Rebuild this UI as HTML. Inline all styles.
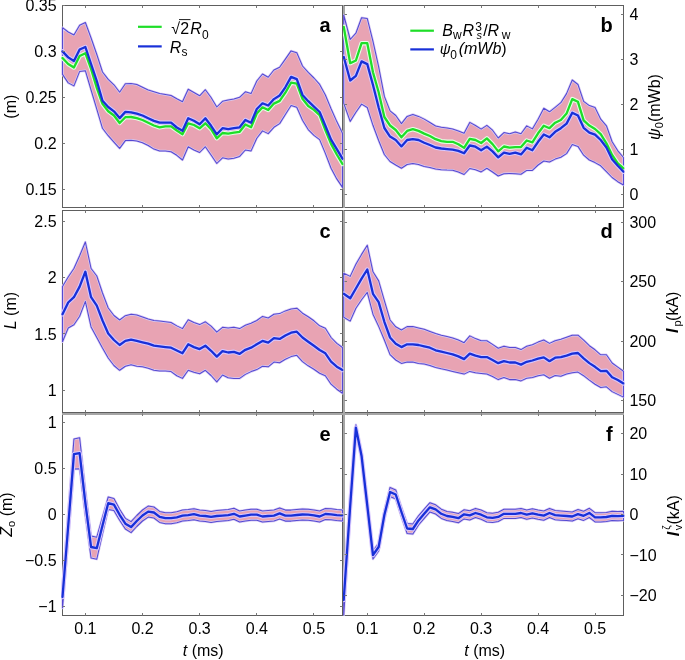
<!DOCTYPE html>
<html><head><meta charset="utf-8"><style>
html,body{margin:0;padding:0;background:#fff;}
svg{display:block;}
text{font-family:'Liberation Sans', Arial, Helvetica, sans-serif;fill:#000;}
.tl{font-size:16px;}
.pl{font-size:20px;font-weight:bold;}
.lab{font-size:16px;}
.lg{font-size:16px;}
</style></head><body>
<svg width="685" height="660" viewBox="0 0 685 660">
<defs>
<clipPath id="ca"><rect x="61.0" y="5.5" width="282.5" height="202.0"/></clipPath>
<clipPath id="cb"><rect x="343.0" y="5.5" width="281.5" height="202.0"/></clipPath>
<clipPath id="cc"><rect x="61.0" y="210.5" width="282.5" height="202.0"/></clipPath>
<clipPath id="cd"><rect x="343.0" y="210.5" width="281.5" height="202.0"/></clipPath>
<clipPath id="ce"><rect x="61.0" y="413.5" width="282.5" height="202.0"/></clipPath>
<clipPath id="cf"><rect x="343.0" y="413.5" width="281.5" height="202.0"/></clipPath>
</defs>
<path d="M342.5 5.0V208.0M62.0 207.5H343.0" stroke="#5e5e5e" stroke-width="1" fill="none"/>
<path d="M62.5 5.0V208.0" stroke="#5e5e5e" stroke-width="1" fill="none"/>
<path d="M62.0 5.5H343.0" stroke="#5e5e5e" stroke-width="1" fill="none"/>
<path d="M623.5 5.0V208.0M344.0 207.5H624.0" stroke="#5e5e5e" stroke-width="1" fill="none"/>
<path d="M344 5.0V208.0" stroke="#a6a6a6" stroke-width="2" fill="none"/>
<path d="M344.0 5.5H624.0" stroke="#5e5e5e" stroke-width="1" fill="none"/>
<path d="M342.5 210.0V413.0M62.0 412.5H343.0" stroke="#5e5e5e" stroke-width="1" fill="none"/>
<path d="M62.5 210.0V413.0" stroke="#5e5e5e" stroke-width="1" fill="none"/>
<path d="M62.0 210.5H343.0" stroke="#5e5e5e" stroke-width="1" fill="none"/>
<path d="M623.5 210.0V413.0M344.0 412.5H624.0" stroke="#5e5e5e" stroke-width="1" fill="none"/>
<path d="M344 210.0V413.0" stroke="#a6a6a6" stroke-width="2" fill="none"/>
<path d="M344.0 210.5H624.0" stroke="#5e5e5e" stroke-width="1" fill="none"/>
<path d="M342.5 413.0V616.0M62.0 615.5H343.0" stroke="#5e5e5e" stroke-width="1" fill="none"/>
<path d="M62.5 413.0V616.0" stroke="#5e5e5e" stroke-width="1" fill="none"/>
<path d="M62.0 414H343.0" stroke="#a6a6a6" stroke-width="2" fill="none"/>
<path d="M623.5 413.0V616.0M344.0 615.5H624.0" stroke="#5e5e5e" stroke-width="1" fill="none"/>
<path d="M344 413.0V616.0" stroke="#a6a6a6" stroke-width="2" fill="none"/>
<path d="M344.0 414H624.0" stroke="#a6a6a6" stroke-width="2" fill="none"/>
<g clip-path="url(#ca)" stroke-linejoin="round" stroke-linecap="round" fill="none">
<polygon points="62.5,27.7 68.21,32 73.93,35 79.64,25.3 85.36,22.5 91.07,38 96.79,54.5 102.5,72 108.21,79.4 113.93,84.8 119.64,92.2 125.36,83.7 131.07,83.6 136.79,84.5 142.5,87.3 148.21,90 153.93,91.8 159.64,93.6 165.36,94.5 171.07,95.5 176.79,98.7 182.5,101.7 188.21,89.2 193.93,92.5 199.64,95.8 205.36,89.7 211.07,97.5 216.79,107 222.5,101.3 228.21,100 233.93,99.1 239.64,97.3 245.36,91.8 251.07,93.6 256.79,81 262.5,74 268.21,77.3 273.93,70 279.64,67.3 285.36,59.1 291.07,50.9 296.79,52.7 302.5,66 308.21,72.4 313.93,78 319.64,84.4 325.36,95 331.07,108.8 336.79,121.6 342.5,133.2 342.5,187.4 336.79,178.9 331.07,168.3 325.36,153.4 319.64,139.6 313.93,135.4 308.21,129.6 302.5,120.3 296.79,107.3 291.07,105.5 285.36,114.5 279.64,123.6 273.93,127.3 268.21,133.6 262.5,130.9 256.79,138.2 251.07,150.9 245.36,150 239.64,156.4 233.93,158.2 228.21,159.1 222.5,157.8 216.79,163.5 211.07,155 205.36,146.7 199.64,152.5 193.93,150 188.21,146.7 182.5,160 176.79,155.3 171.07,151.8 165.36,150.9 159.64,150.9 153.93,149.1 148.21,145.5 142.5,142.7 136.79,140.9 131.07,140.3 125.36,140.6 119.64,148.4 113.93,142.1 108.21,135.7 102.5,128.3 96.79,109.2 91.07,90 85.36,70.7 79.64,71.4 73.93,85.9 68.21,82.9 62.5,74.4" fill="#e8a3b3" stroke="none"/>
<polygon points="62.5,27.7 68.21,32 73.93,35 79.64,25.3 85.36,22.5 91.07,38 96.79,54.5 102.5,72 108.21,79.4 113.93,84.8 119.64,92.2 125.36,83.7 131.07,83.6 136.79,84.5 142.5,87.3 148.21,90 153.93,91.8 159.64,93.6 165.36,94.5 171.07,95.5 176.79,98.7 182.5,101.7 188.21,89.2 193.93,92.5 199.64,95.8 205.36,89.7 211.07,97.5 216.79,107 222.5,101.3 228.21,100 233.93,99.1 239.64,97.3 245.36,91.8 251.07,93.6 256.79,81 262.5,74 268.21,77.3 273.93,70 279.64,67.3 285.36,59.1 291.07,50.9 296.79,52.7 302.5,66 308.21,72.4 313.93,78 319.64,84.4 325.36,95 331.07,108.8 336.79,121.6 342.5,133.2 342.5,187.4 336.79,178.9 331.07,168.3 325.36,153.4 319.64,139.6 313.93,135.4 308.21,129.6 302.5,120.3 296.79,107.3 291.07,105.5 285.36,114.5 279.64,123.6 273.93,127.3 268.21,133.6 262.5,130.9 256.79,138.2 251.07,150.9 245.36,150 239.64,156.4 233.93,158.2 228.21,159.1 222.5,157.8 216.79,163.5 211.07,155 205.36,146.7 199.64,152.5 193.93,150 188.21,146.7 182.5,160 176.79,155.3 171.07,151.8 165.36,150.9 159.64,150.9 153.93,149.1 148.21,145.5 142.5,142.7 136.79,140.9 131.07,140.3 125.36,140.6 119.64,148.4 113.93,142.1 108.21,135.7 102.5,128.3 96.79,109.2 91.07,90 85.36,70.7 79.64,71.4 73.93,85.9 68.21,82.9 62.5,74.4" stroke="#d8ccf4" stroke-width="2.4"/>
<polygon points="62.5,27.7 68.21,32 73.93,35 79.64,25.3 85.36,22.5 91.07,38 96.79,54.5 102.5,72 108.21,79.4 113.93,84.8 119.64,92.2 125.36,83.7 131.07,83.6 136.79,84.5 142.5,87.3 148.21,90 153.93,91.8 159.64,93.6 165.36,94.5 171.07,95.5 176.79,98.7 182.5,101.7 188.21,89.2 193.93,92.5 199.64,95.8 205.36,89.7 211.07,97.5 216.79,107 222.5,101.3 228.21,100 233.93,99.1 239.64,97.3 245.36,91.8 251.07,93.6 256.79,81 262.5,74 268.21,77.3 273.93,70 279.64,67.3 285.36,59.1 291.07,50.9 296.79,52.7 302.5,66 308.21,72.4 313.93,78 319.64,84.4 325.36,95 331.07,108.8 336.79,121.6 342.5,133.2 342.5,187.4 336.79,178.9 331.07,168.3 325.36,153.4 319.64,139.6 313.93,135.4 308.21,129.6 302.5,120.3 296.79,107.3 291.07,105.5 285.36,114.5 279.64,123.6 273.93,127.3 268.21,133.6 262.5,130.9 256.79,138.2 251.07,150.9 245.36,150 239.64,156.4 233.93,158.2 228.21,159.1 222.5,157.8 216.79,163.5 211.07,155 205.36,146.7 199.64,152.5 193.93,150 188.21,146.7 182.5,160 176.79,155.3 171.07,151.8 165.36,150.9 159.64,150.9 153.93,149.1 148.21,145.5 142.5,142.7 136.79,140.9 131.07,140.3 125.36,140.6 119.64,148.4 113.93,142.1 108.21,135.7 102.5,128.3 96.79,109.2 91.07,90 85.36,70.7 79.64,71.4 73.93,85.9 68.21,82.9 62.5,74.4" stroke="#5549d2" stroke-width="1.05"/>
<polyline points="62.5,58 68.21,64 73.93,67.5 79.64,56 85.36,53.2 91.07,68.8 96.79,87.9 102.5,103.9 108.21,111.3 113.93,115.5 119.64,123 125.36,117.2 131.07,117 136.79,118.2 142.5,120 148.21,122.7 153.93,125.5 159.64,127.3 165.36,126.4 171.07,126.4 176.79,130.5 182.5,134.2 188.21,123.3 193.93,125 199.64,128.3 205.36,123.3 211.07,129.2 216.79,138.3 222.5,133 228.21,133.6 233.93,132.7 239.64,131.8 245.36,124.5 251.07,127.3 256.79,113.6 262.5,107.3 268.21,110 273.93,103.6 279.64,100.9 285.36,92.7 291.07,82.7 296.79,83.6 302.5,98.8 308.21,106 313.93,109.9 319.64,115.2 325.36,130 331.07,143.9 336.79,154.5 342.5,164" stroke="#e4ffe4" stroke-width="4.4"/>
<polyline points="62.5,51.4 68.21,57.4 73.93,61 79.64,49.5 85.36,47 91.07,64 96.79,81 102.5,100.7 108.21,107 113.93,111.3 119.64,118.1 125.36,111.9 131.07,112.3 136.79,113.6 142.5,115.5 148.21,118.2 153.93,120.9 159.64,122.7 165.36,122.7 171.07,122.7 176.79,127.5 182.5,130.8 188.21,118.3 193.93,120.8 199.64,124.2 205.36,118.3 211.07,125.8 216.79,134.3 222.5,128.2 228.21,129.1 233.93,128.2 239.64,127.3 245.36,120 251.07,122.7 256.79,109 262.5,103.3 268.21,105.5 273.93,99.1 279.64,95.5 285.36,87.3 291.07,76.9 296.79,79.1 302.5,95 308.21,101.2 313.93,106.7 319.64,112 325.36,125.8 331.07,139.6 336.79,149.2 342.5,158.7" stroke="#d8c8ff" stroke-width="4.4"/>
<polyline points="62.5,58 68.21,64 73.93,67.5 79.64,56 85.36,53.2 91.07,68.8 96.79,87.9 102.5,103.9 108.21,111.3 113.93,115.5 119.64,123 125.36,117.2 131.07,117 136.79,118.2 142.5,120 148.21,122.7 153.93,125.5 159.64,127.3 165.36,126.4 171.07,126.4 176.79,130.5 182.5,134.2 188.21,123.3 193.93,125 199.64,128.3 205.36,123.3 211.07,129.2 216.79,138.3 222.5,133 228.21,133.6 233.93,132.7 239.64,131.8 245.36,124.5 251.07,127.3 256.79,113.6 262.5,107.3 268.21,110 273.93,103.6 279.64,100.9 285.36,92.7 291.07,82.7 296.79,83.6 302.5,98.8 308.21,106 313.93,109.9 319.64,115.2 325.36,130 331.07,143.9 336.79,154.5 342.5,164" stroke="#1ede28" stroke-width="2.3"/>
<polyline points="62.5,51.4 68.21,57.4 73.93,61 79.64,49.5 85.36,47 91.07,64 96.79,81 102.5,100.7 108.21,107 113.93,111.3 119.64,118.1 125.36,111.9 131.07,112.3 136.79,113.6 142.5,115.5 148.21,118.2 153.93,120.9 159.64,122.7 165.36,122.7 171.07,122.7 176.79,127.5 182.5,130.8 188.21,118.3 193.93,120.8 199.64,124.2 205.36,118.3 211.07,125.8 216.79,134.3 222.5,128.2 228.21,129.1 233.93,128.2 239.64,127.3 245.36,120 251.07,122.7 256.79,109 262.5,103.3 268.21,105.5 273.93,99.1 279.64,95.5 285.36,87.3 291.07,76.9 296.79,79.1 302.5,95 308.21,101.2 313.93,106.7 319.64,112 325.36,125.8 331.07,139.6 336.79,149.2 342.5,158.7" stroke="#1830d8" stroke-width="2.3"/>
</g>
<g clip-path="url(#cb)" stroke-linejoin="round" stroke-linecap="round" fill="none">
<polygon points="343.7,15 350.19,39.5 355.89,33.2 361.58,17.7 367.28,18.6 372.97,41.4 378.66,66.8 384.36,96.4 390.05,110.9 395.74,115.5 401.44,123.6 407.13,116.4 412.83,114.5 418.52,116.4 424.21,119.1 429.91,122.5 435.6,126 441.3,127.3 446.99,127.9 452.68,129.1 458.38,130.9 464.07,133.3 469.77,122.4 475.46,125.5 481.15,129.1 486.85,125.4 492.54,130.2 498.23,138 503.93,132.6 509.62,133.8 515.32,132 521.01,133.8 526.7,125.9 532.4,128.9 538.09,119.2 543.79,108.2 549.48,111.8 555.17,107.3 560.87,102.7 566.56,93.6 572.26,80 577.95,84.5 583.64,101.3 589.34,105.6 595.03,107.4 600.72,119.2 606.42,125.8 612.11,141.7 617.81,150.8 623.5,157.5 623.5,185 617.81,181.7 612.11,177.5 606.42,171.7 600.72,165.8 595.03,162.6 589.34,160 583.64,155.2 577.95,146.4 572.26,144.5 566.56,153.6 560.87,157.3 555.17,159.1 549.48,162 543.79,161 538.09,165 532.4,170.4 526.7,170.4 521.01,174.3 515.32,173.7 509.62,173.4 503.93,173.7 498.23,176 492.54,172 486.85,168.3 481.15,171.9 475.46,169.7 469.77,168.5 464.07,174.5 458.38,172.1 452.68,170.3 446.99,170.1 441.3,169.7 435.6,169.1 429.91,167.5 424.21,166.4 418.52,164.5 412.83,163.6 407.13,164.5 401.44,168.2 395.74,165 390.05,161.5 384.36,154.5 378.66,140.5 372.97,125.3 367.28,107.5 361.58,104.1 355.89,112.3 350.19,121.4 343.7,103.2" fill="#e8a3b3" stroke="none"/>
<polygon points="343.7,15 350.19,39.5 355.89,33.2 361.58,17.7 367.28,18.6 372.97,41.4 378.66,66.8 384.36,96.4 390.05,110.9 395.74,115.5 401.44,123.6 407.13,116.4 412.83,114.5 418.52,116.4 424.21,119.1 429.91,122.5 435.6,126 441.3,127.3 446.99,127.9 452.68,129.1 458.38,130.9 464.07,133.3 469.77,122.4 475.46,125.5 481.15,129.1 486.85,125.4 492.54,130.2 498.23,138 503.93,132.6 509.62,133.8 515.32,132 521.01,133.8 526.7,125.9 532.4,128.9 538.09,119.2 543.79,108.2 549.48,111.8 555.17,107.3 560.87,102.7 566.56,93.6 572.26,80 577.95,84.5 583.64,101.3 589.34,105.6 595.03,107.4 600.72,119.2 606.42,125.8 612.11,141.7 617.81,150.8 623.5,157.5 623.5,185 617.81,181.7 612.11,177.5 606.42,171.7 600.72,165.8 595.03,162.6 589.34,160 583.64,155.2 577.95,146.4 572.26,144.5 566.56,153.6 560.87,157.3 555.17,159.1 549.48,162 543.79,161 538.09,165 532.4,170.4 526.7,170.4 521.01,174.3 515.32,173.7 509.62,173.4 503.93,173.7 498.23,176 492.54,172 486.85,168.3 481.15,171.9 475.46,169.7 469.77,168.5 464.07,174.5 458.38,172.1 452.68,170.3 446.99,170.1 441.3,169.7 435.6,169.1 429.91,167.5 424.21,166.4 418.52,164.5 412.83,163.6 407.13,164.5 401.44,168.2 395.74,165 390.05,161.5 384.36,154.5 378.66,140.5 372.97,125.3 367.28,107.5 361.58,104.1 355.89,112.3 350.19,121.4 343.7,103.2" stroke="#d8ccf4" stroke-width="2.4"/>
<polygon points="343.7,15 350.19,39.5 355.89,33.2 361.58,17.7 367.28,18.6 372.97,41.4 378.66,66.8 384.36,96.4 390.05,110.9 395.74,115.5 401.44,123.6 407.13,116.4 412.83,114.5 418.52,116.4 424.21,119.1 429.91,122.5 435.6,126 441.3,127.3 446.99,127.9 452.68,129.1 458.38,130.9 464.07,133.3 469.77,122.4 475.46,125.5 481.15,129.1 486.85,125.4 492.54,130.2 498.23,138 503.93,132.6 509.62,133.8 515.32,132 521.01,133.8 526.7,125.9 532.4,128.9 538.09,119.2 543.79,108.2 549.48,111.8 555.17,107.3 560.87,102.7 566.56,93.6 572.26,80 577.95,84.5 583.64,101.3 589.34,105.6 595.03,107.4 600.72,119.2 606.42,125.8 612.11,141.7 617.81,150.8 623.5,157.5 623.5,185 617.81,181.7 612.11,177.5 606.42,171.7 600.72,165.8 595.03,162.6 589.34,160 583.64,155.2 577.95,146.4 572.26,144.5 566.56,153.6 560.87,157.3 555.17,159.1 549.48,162 543.79,161 538.09,165 532.4,170.4 526.7,170.4 521.01,174.3 515.32,173.7 509.62,173.4 503.93,173.7 498.23,176 492.54,172 486.85,168.3 481.15,171.9 475.46,169.7 469.77,168.5 464.07,174.5 458.38,172.1 452.68,170.3 446.99,170.1 441.3,169.7 435.6,169.1 429.91,167.5 424.21,166.4 418.52,164.5 412.83,163.6 407.13,164.5 401.44,168.2 395.74,165 390.05,161.5 384.36,154.5 378.66,140.5 372.97,125.3 367.28,107.5 361.58,104.1 355.89,112.3 350.19,121.4 343.7,103.2" stroke="#5549d2" stroke-width="1.05"/>
<polyline points="343.7,26.8 350.19,63.2 355.89,60.5 361.58,43.2 367.28,43.2 372.97,72.3 378.66,92.3 384.36,117 390.05,125.5 395.74,130 401.44,137.3 407.13,130.9 412.83,129.1 418.52,130.9 424.21,133.6 429.91,136 435.6,139.2 441.3,141.2 446.99,141.8 452.68,141.8 458.38,144.2 464.07,147.9 469.77,138.8 475.46,140 481.15,143 486.85,138.4 492.54,144.1 498.23,151.4 503.93,146.5 509.62,147.7 515.32,147.1 521.01,147.1 526.7,140.5 532.4,142.3 538.09,133.3 543.79,125.7 549.48,128.2 555.17,122.7 560.87,120 566.56,113.6 572.26,99.1 577.95,101.8 583.64,120.4 589.34,125.6 595.03,129 600.72,134.2 606.42,143.3 612.11,155 617.81,163.3 623.5,168.3" stroke="#e4ffe4" stroke-width="4.4"/>
<polyline points="343.7,56.8 350.19,80.5 355.89,75.9 361.58,61.4 367.28,64.1 372.97,85 378.66,107.5 384.36,128 390.05,136.6 395.74,140 401.44,146.4 407.13,140 412.83,139.1 418.52,140 424.21,142.7 429.91,145 435.6,147.5 441.3,148.5 446.99,149.1 452.68,149.7 458.38,150.9 464.07,153.3 469.77,145.5 475.46,146.7 481.15,150.3 486.85,146.6 492.54,151.4 498.23,157.4 503.93,152.6 509.62,153.8 515.32,152.6 521.01,154.4 526.7,147.7 532.4,150.2 538.09,141.8 543.79,134.5 549.48,137.3 555.17,131.8 560.87,128.2 566.56,123.6 572.26,112.7 577.95,115.5 583.64,127.8 589.34,132.6 595.03,134.7 600.72,140 606.42,147.5 612.11,159.2 617.81,165.8 623.5,171.7" stroke="#d8c8ff" stroke-width="4.4"/>
<polyline points="343.7,26.8 350.19,63.2 355.89,60.5 361.58,43.2 367.28,43.2 372.97,72.3 378.66,92.3 384.36,117 390.05,125.5 395.74,130 401.44,137.3 407.13,130.9 412.83,129.1 418.52,130.9 424.21,133.6 429.91,136 435.6,139.2 441.3,141.2 446.99,141.8 452.68,141.8 458.38,144.2 464.07,147.9 469.77,138.8 475.46,140 481.15,143 486.85,138.4 492.54,144.1 498.23,151.4 503.93,146.5 509.62,147.7 515.32,147.1 521.01,147.1 526.7,140.5 532.4,142.3 538.09,133.3 543.79,125.7 549.48,128.2 555.17,122.7 560.87,120 566.56,113.6 572.26,99.1 577.95,101.8 583.64,120.4 589.34,125.6 595.03,129 600.72,134.2 606.42,143.3 612.11,155 617.81,163.3 623.5,168.3" stroke="#1ede28" stroke-width="2.3"/>
<polyline points="343.7,56.8 350.19,80.5 355.89,75.9 361.58,61.4 367.28,64.1 372.97,85 378.66,107.5 384.36,128 390.05,136.6 395.74,140 401.44,146.4 407.13,140 412.83,139.1 418.52,140 424.21,142.7 429.91,145 435.6,147.5 441.3,148.5 446.99,149.1 452.68,149.7 458.38,150.9 464.07,153.3 469.77,145.5 475.46,146.7 481.15,150.3 486.85,146.6 492.54,151.4 498.23,157.4 503.93,152.6 509.62,153.8 515.32,152.6 521.01,154.4 526.7,147.7 532.4,150.2 538.09,141.8 543.79,134.5 549.48,137.3 555.17,131.8 560.87,128.2 566.56,123.6 572.26,112.7 577.95,115.5 583.64,127.8 589.34,132.6 595.03,134.7 600.72,140 606.42,147.5 612.11,159.2 617.81,165.8 623.5,171.7" stroke="#1830d8" stroke-width="2.3"/>
</g>
<g clip-path="url(#cc)" stroke-linejoin="round" stroke-linecap="round" fill="none">
<polygon points="62.5,286.6 68.21,277 73.93,268.5 79.64,255.8 85.36,242 91.07,268.5 96.79,276 102.5,293 108.21,308 113.93,315.5 119.64,320 125.36,315.7 131.07,314.3 136.79,315 142.5,317 148.21,319.1 153.93,320.5 159.64,321.1 165.36,321.8 171.07,322.5 176.79,325.9 182.5,328.6 188.21,319.8 193.93,322.5 199.64,324.6 205.36,321.8 211.07,326.2 216.79,332.1 222.5,327.3 228.21,328 233.93,327.3 239.64,328.6 245.36,325.2 251.07,323.2 256.79,320.5 262.5,316.4 268.21,318 273.93,314.3 279.64,313.6 285.36,310.9 291.07,308.9 296.79,308.2 302.5,313.2 308.21,316.7 313.93,320.8 319.64,325.8 325.36,328.3 331.07,337.5 336.79,343.3 342.5,347.5 342.5,393.3 336.79,389.2 331.07,384.2 325.36,375.8 319.64,373.3 313.93,369.2 308.21,365.8 302.5,361.6 296.79,355.3 291.07,356.6 285.36,359.3 279.64,362.8 273.93,362.1 268.21,366.8 262.5,366.2 256.79,369.6 251.07,371.6 245.36,374.4 239.64,378.4 233.93,378.4 228.21,377.8 222.5,375 216.79,381.9 211.07,375.5 205.36,370.3 199.64,373.7 193.93,372.3 188.21,370.3 182.5,378.4 176.79,375.7 171.07,371.6 165.36,370.9 159.64,370.9 153.93,370.3 148.21,368.2 142.5,366.8 136.79,366.2 131.07,364.8 125.36,366.2 119.64,370.3 113.93,365.5 108.21,358 102.5,348.1 96.79,337.5 91.07,326.9 85.36,301.4 79.64,316.3 73.93,324.8 68.21,328 62.5,341.8" fill="#e8a3b3" stroke="none"/>
<polygon points="62.5,286.6 68.21,277 73.93,268.5 79.64,255.8 85.36,242 91.07,268.5 96.79,276 102.5,293 108.21,308 113.93,315.5 119.64,320 125.36,315.7 131.07,314.3 136.79,315 142.5,317 148.21,319.1 153.93,320.5 159.64,321.1 165.36,321.8 171.07,322.5 176.79,325.9 182.5,328.6 188.21,319.8 193.93,322.5 199.64,324.6 205.36,321.8 211.07,326.2 216.79,332.1 222.5,327.3 228.21,328 233.93,327.3 239.64,328.6 245.36,325.2 251.07,323.2 256.79,320.5 262.5,316.4 268.21,318 273.93,314.3 279.64,313.6 285.36,310.9 291.07,308.9 296.79,308.2 302.5,313.2 308.21,316.7 313.93,320.8 319.64,325.8 325.36,328.3 331.07,337.5 336.79,343.3 342.5,347.5 342.5,393.3 336.79,389.2 331.07,384.2 325.36,375.8 319.64,373.3 313.93,369.2 308.21,365.8 302.5,361.6 296.79,355.3 291.07,356.6 285.36,359.3 279.64,362.8 273.93,362.1 268.21,366.8 262.5,366.2 256.79,369.6 251.07,371.6 245.36,374.4 239.64,378.4 233.93,378.4 228.21,377.8 222.5,375 216.79,381.9 211.07,375.5 205.36,370.3 199.64,373.7 193.93,372.3 188.21,370.3 182.5,378.4 176.79,375.7 171.07,371.6 165.36,370.9 159.64,370.9 153.93,370.3 148.21,368.2 142.5,366.8 136.79,366.2 131.07,364.8 125.36,366.2 119.64,370.3 113.93,365.5 108.21,358 102.5,348.1 96.79,337.5 91.07,326.9 85.36,301.4 79.64,316.3 73.93,324.8 68.21,328 62.5,341.8" stroke="#d8ccf4" stroke-width="2.4"/>
<polygon points="62.5,286.6 68.21,277 73.93,268.5 79.64,255.8 85.36,242 91.07,268.5 96.79,276 102.5,293 108.21,308 113.93,315.5 119.64,320 125.36,315.7 131.07,314.3 136.79,315 142.5,317 148.21,319.1 153.93,320.5 159.64,321.1 165.36,321.8 171.07,322.5 176.79,325.9 182.5,328.6 188.21,319.8 193.93,322.5 199.64,324.6 205.36,321.8 211.07,326.2 216.79,332.1 222.5,327.3 228.21,328 233.93,327.3 239.64,328.6 245.36,325.2 251.07,323.2 256.79,320.5 262.5,316.4 268.21,318 273.93,314.3 279.64,313.6 285.36,310.9 291.07,308.9 296.79,308.2 302.5,313.2 308.21,316.7 313.93,320.8 319.64,325.8 325.36,328.3 331.07,337.5 336.79,343.3 342.5,347.5 342.5,393.3 336.79,389.2 331.07,384.2 325.36,375.8 319.64,373.3 313.93,369.2 308.21,365.8 302.5,361.6 296.79,355.3 291.07,356.6 285.36,359.3 279.64,362.8 273.93,362.1 268.21,366.8 262.5,366.2 256.79,369.6 251.07,371.6 245.36,374.4 239.64,378.4 233.93,378.4 228.21,377.8 222.5,375 216.79,381.9 211.07,375.5 205.36,370.3 199.64,373.7 193.93,372.3 188.21,370.3 182.5,378.4 176.79,375.7 171.07,371.6 165.36,370.9 159.64,370.9 153.93,370.3 148.21,368.2 142.5,366.8 136.79,366.2 131.07,364.8 125.36,366.2 119.64,370.3 113.93,365.5 108.21,358 102.5,348.1 96.79,337.5 91.07,326.9 85.36,301.4 79.64,316.3 73.93,324.8 68.21,328 62.5,341.8" stroke="#5549d2" stroke-width="1.05"/>
<polyline points="62.5,314.2 68.21,302.5 73.93,297.2 79.64,286.6 85.36,271.7 91.07,297.2 96.79,305.7 102.5,320.5 108.21,333.5 113.93,340 119.64,345 125.36,340.9 131.07,339.6 136.79,340.9 142.5,342.3 148.21,343.7 153.93,345.7 159.64,346.4 165.36,347.1 171.07,347.7 176.79,350.5 182.5,353.2 188.21,344.3 193.93,347.1 199.64,349.1 205.36,345.7 211.07,350.8 216.79,356.6 222.5,351.2 228.21,352.5 233.93,351.8 239.64,353.9 245.36,349.8 251.07,347.7 256.79,344.3 262.5,340.9 268.21,342.6 273.93,338.2 279.64,338.9 285.36,335.5 291.07,332.7 296.79,331.7 302.5,337.5 308.21,341.7 313.93,345.8 319.64,350 325.36,353.3 331.07,361.7 336.79,366.7 342.5,370" stroke="#d8c8ff" stroke-width="4.4"/>
<polyline points="62.5,314.2 68.21,302.5 73.93,297.2 79.64,286.6 85.36,271.7 91.07,297.2 96.79,305.7 102.5,320.5 108.21,333.5 113.93,340 119.64,345 125.36,340.9 131.07,339.6 136.79,340.9 142.5,342.3 148.21,343.7 153.93,345.7 159.64,346.4 165.36,347.1 171.07,347.7 176.79,350.5 182.5,353.2 188.21,344.3 193.93,347.1 199.64,349.1 205.36,345.7 211.07,350.8 216.79,356.6 222.5,351.2 228.21,352.5 233.93,351.8 239.64,353.9 245.36,349.8 251.07,347.7 256.79,344.3 262.5,340.9 268.21,342.6 273.93,338.2 279.64,338.9 285.36,335.5 291.07,332.7 296.79,331.7 302.5,337.5 308.21,341.7 313.93,345.8 319.64,350 325.36,353.3 331.07,361.7 336.79,366.7 342.5,370" stroke="#1830d8" stroke-width="2.3"/>
</g>
<g clip-path="url(#cd)" stroke-linejoin="round" stroke-linecap="round" fill="none">
<polygon points="343.7,273.3 350.19,276.4 355.89,264.2 361.58,254.4 367.28,245.3 372.97,271.8 378.66,280.9 384.36,300.6 390.05,320 395.74,326.8 401.44,330 407.13,326.6 412.83,326.6 418.52,328 424.21,329.3 429.91,331.4 435.6,333.6 441.3,335.3 446.99,336.6 452.68,338 458.38,340 464.07,342.7 469.77,335.9 475.46,338.6 481.15,340.7 486.85,340.7 492.54,344.4 498.23,348.2 503.93,346.2 509.62,347.5 515.32,347.5 521.01,349.6 526.7,346.2 532.4,344.8 538.09,342.1 543.79,340 549.48,343.4 555.17,340.7 560.87,339.3 566.56,337.3 572.26,335.2 577.95,335.2 583.64,340.2 589.34,345.7 595.03,349.8 600.72,354.8 606.42,354.8 612.11,363 617.81,367.1 623.5,371.2 623.5,397.1 617.81,394.4 612.11,391.6 606.42,386.8 600.72,387.5 595.03,384.2 589.34,380.1 583.64,375.7 577.95,372.1 572.26,372.8 566.56,374.1 560.87,376.2 555.17,375.5 549.48,378.2 543.79,374.8 538.09,375.8 532.4,377.5 526.7,378.2 521.01,380.9 515.32,379.6 509.62,379.6 503.93,377.5 498.23,379.6 492.54,376.5 486.85,374.1 481.15,373.4 475.46,372.8 469.77,371.4 464.07,374.1 458.38,372.8 452.68,371.4 446.99,370 441.3,368.8 435.6,367.4 429.91,365.5 424.21,364.1 418.52,363.4 412.83,362.1 407.13,362.1 401.44,363.4 395.74,360 390.05,354.6 384.36,340 378.66,326.4 372.97,314.2 367.28,292.3 361.58,299.8 355.89,308.2 350.19,321.1 343.7,317.3" fill="#e8a3b3" stroke="none"/>
<polygon points="343.7,273.3 350.19,276.4 355.89,264.2 361.58,254.4 367.28,245.3 372.97,271.8 378.66,280.9 384.36,300.6 390.05,320 395.74,326.8 401.44,330 407.13,326.6 412.83,326.6 418.52,328 424.21,329.3 429.91,331.4 435.6,333.6 441.3,335.3 446.99,336.6 452.68,338 458.38,340 464.07,342.7 469.77,335.9 475.46,338.6 481.15,340.7 486.85,340.7 492.54,344.4 498.23,348.2 503.93,346.2 509.62,347.5 515.32,347.5 521.01,349.6 526.7,346.2 532.4,344.8 538.09,342.1 543.79,340 549.48,343.4 555.17,340.7 560.87,339.3 566.56,337.3 572.26,335.2 577.95,335.2 583.64,340.2 589.34,345.7 595.03,349.8 600.72,354.8 606.42,354.8 612.11,363 617.81,367.1 623.5,371.2 623.5,397.1 617.81,394.4 612.11,391.6 606.42,386.8 600.72,387.5 595.03,384.2 589.34,380.1 583.64,375.7 577.95,372.1 572.26,372.8 566.56,374.1 560.87,376.2 555.17,375.5 549.48,378.2 543.79,374.8 538.09,375.8 532.4,377.5 526.7,378.2 521.01,380.9 515.32,379.6 509.62,379.6 503.93,377.5 498.23,379.6 492.54,376.5 486.85,374.1 481.15,373.4 475.46,372.8 469.77,371.4 464.07,374.1 458.38,372.8 452.68,371.4 446.99,370 441.3,368.8 435.6,367.4 429.91,365.5 424.21,364.1 418.52,363.4 412.83,362.1 407.13,362.1 401.44,363.4 395.74,360 390.05,354.6 384.36,340 378.66,326.4 372.97,314.2 367.28,292.3 361.58,299.8 355.89,308.2 350.19,321.1 343.7,317.3" stroke="#d8ccf4" stroke-width="2.4"/>
<polygon points="343.7,273.3 350.19,276.4 355.89,264.2 361.58,254.4 367.28,245.3 372.97,271.8 378.66,280.9 384.36,300.6 390.05,320 395.74,326.8 401.44,330 407.13,326.6 412.83,326.6 418.52,328 424.21,329.3 429.91,331.4 435.6,333.6 441.3,335.3 446.99,336.6 452.68,338 458.38,340 464.07,342.7 469.77,335.9 475.46,338.6 481.15,340.7 486.85,340.7 492.54,344.4 498.23,348.2 503.93,346.2 509.62,347.5 515.32,347.5 521.01,349.6 526.7,346.2 532.4,344.8 538.09,342.1 543.79,340 549.48,343.4 555.17,340.7 560.87,339.3 566.56,337.3 572.26,335.2 577.95,335.2 583.64,340.2 589.34,345.7 595.03,349.8 600.72,354.8 606.42,354.8 612.11,363 617.81,367.1 623.5,371.2 623.5,397.1 617.81,394.4 612.11,391.6 606.42,386.8 600.72,387.5 595.03,384.2 589.34,380.1 583.64,375.7 577.95,372.1 572.26,372.8 566.56,374.1 560.87,376.2 555.17,375.5 549.48,378.2 543.79,374.8 538.09,375.8 532.4,377.5 526.7,378.2 521.01,380.9 515.32,379.6 509.62,379.6 503.93,377.5 498.23,379.6 492.54,376.5 486.85,374.1 481.15,373.4 475.46,372.8 469.77,371.4 464.07,374.1 458.38,372.8 452.68,371.4 446.99,370 441.3,368.8 435.6,367.4 429.91,365.5 424.21,364.1 418.52,363.4 412.83,362.1 407.13,362.1 401.44,363.4 395.74,360 390.05,354.6 384.36,340 378.66,326.4 372.97,314.2 367.28,292.3 361.58,299.8 355.89,308.2 350.19,321.1 343.7,317.3" stroke="#5549d2" stroke-width="1.05"/>
<polyline points="343.7,293.8 350.19,298.3 355.89,288.5 361.58,278.6 367.28,269.5 372.97,293.8 378.66,302.1 384.36,321.8 390.05,337.5 395.74,343.7 401.44,347.1 407.13,344.3 412.83,344.3 418.52,345 424.21,346.4 429.91,347.7 435.6,350.3 441.3,351.7 446.99,353 452.68,354.3 458.38,356.4 464.07,359.1 469.77,353.7 475.46,355.7 481.15,357.1 486.85,357.1 492.54,360.1 498.23,363.2 503.93,361.2 509.62,362.5 515.32,362.5 521.01,364.6 526.7,361.8 532.4,360.5 538.09,358.7 543.79,357.4 549.48,361.2 555.17,357.7 560.87,357.1 566.56,355.7 572.26,353.7 577.95,353 583.64,358.3 589.34,363.1 595.03,366.8 600.72,371.2 606.42,370.8 612.11,377.3 617.81,380 623.5,383.4" stroke="#d8c8ff" stroke-width="4.4"/>
<polyline points="343.7,293.8 350.19,298.3 355.89,288.5 361.58,278.6 367.28,269.5 372.97,293.8 378.66,302.1 384.36,321.8 390.05,337.5 395.74,343.7 401.44,347.1 407.13,344.3 412.83,344.3 418.52,345 424.21,346.4 429.91,347.7 435.6,350.3 441.3,351.7 446.99,353 452.68,354.3 458.38,356.4 464.07,359.1 469.77,353.7 475.46,355.7 481.15,357.1 486.85,357.1 492.54,360.1 498.23,363.2 503.93,361.2 509.62,362.5 515.32,362.5 521.01,364.6 526.7,361.8 532.4,360.5 538.09,358.7 543.79,357.4 549.48,361.2 555.17,357.7 560.87,357.1 566.56,355.7 572.26,353.7 577.95,353 583.64,358.3 589.34,363.1 595.03,366.8 600.72,371.2 606.42,370.8 612.11,377.3 617.81,380 623.5,383.4" stroke="#1830d8" stroke-width="2.3"/>
</g>
<g clip-path="url(#ce)" stroke-linejoin="round" stroke-linecap="round" fill="none">
<polygon points="62.5,586 68.21,512 73.93,439.1 79.64,437.7 85.36,490 91.07,536 96.79,537.2 102.5,517 108.21,497 113.93,498.6 119.64,509.3 125.36,518.4 131.07,521.6 136.79,515.5 142.5,510 148.21,506.1 153.93,507 159.64,511.4 165.36,512.7 171.07,512.7 176.79,511.8 182.5,510.1 188.21,509.6 193.93,508.7 199.64,510.1 205.36,510.5 211.07,511.4 216.79,510.5 222.5,510.1 228.21,509.6 233.93,508.3 239.64,511 245.36,510.1 251.07,509.2 256.79,509.2 262.5,511 268.21,510.5 273.93,510.1 279.64,507.9 285.36,510.1 291.07,510.1 296.79,509.5 302.5,509 308.21,509.2 313.93,509.9 319.64,511 325.36,508.5 331.07,508.8 336.79,509.6 342.5,509.9 342.5,520.9 336.79,520.6 331.07,519.8 325.36,519.5 319.64,522 313.93,520.9 308.21,520.2 302.5,520 296.79,520.5 291.07,521.1 285.36,521.1 279.64,518.9 273.93,521.1 268.21,521.5 262.5,522 256.79,520.2 251.07,520.2 245.36,521.1 239.64,522 233.93,519.3 228.21,520.6 222.5,521.1 216.79,521.5 211.07,522.4 205.36,521.5 199.64,521.1 193.93,519.7 188.21,520.6 182.5,521.1 176.79,522.8 171.07,523.7 165.36,523.7 159.64,522.4 153.93,518 148.21,517.1 142.5,521 136.79,526.5 131.07,532.6 125.36,529 119.64,520.3 113.93,510.6 108.21,509.4 102.5,534 96.79,559.2 91.07,558 85.36,516 79.64,468.7 73.93,469.1 68.21,540 62.5,608" fill="#e8a3b3" stroke="none"/>
<polygon points="62.5,586 68.21,512 73.93,439.1 79.64,437.7 85.36,490 91.07,536 96.79,537.2 102.5,517 108.21,497 113.93,498.6 119.64,509.3 125.36,518.4 131.07,521.6 136.79,515.5 142.5,510 148.21,506.1 153.93,507 159.64,511.4 165.36,512.7 171.07,512.7 176.79,511.8 182.5,510.1 188.21,509.6 193.93,508.7 199.64,510.1 205.36,510.5 211.07,511.4 216.79,510.5 222.5,510.1 228.21,509.6 233.93,508.3 239.64,511 245.36,510.1 251.07,509.2 256.79,509.2 262.5,511 268.21,510.5 273.93,510.1 279.64,507.9 285.36,510.1 291.07,510.1 296.79,509.5 302.5,509 308.21,509.2 313.93,509.9 319.64,511 325.36,508.5 331.07,508.8 336.79,509.6 342.5,509.9 342.5,520.9 336.79,520.6 331.07,519.8 325.36,519.5 319.64,522 313.93,520.9 308.21,520.2 302.5,520 296.79,520.5 291.07,521.1 285.36,521.1 279.64,518.9 273.93,521.1 268.21,521.5 262.5,522 256.79,520.2 251.07,520.2 245.36,521.1 239.64,522 233.93,519.3 228.21,520.6 222.5,521.1 216.79,521.5 211.07,522.4 205.36,521.5 199.64,521.1 193.93,519.7 188.21,520.6 182.5,521.1 176.79,522.8 171.07,523.7 165.36,523.7 159.64,522.4 153.93,518 148.21,517.1 142.5,521 136.79,526.5 131.07,532.6 125.36,529 119.64,520.3 113.93,510.6 108.21,509.4 102.5,534 96.79,559.2 91.07,558 85.36,516 79.64,468.7 73.93,469.1 68.21,540 62.5,608" stroke="#d8ccf4" stroke-width="2.4"/>
<polygon points="62.5,586 68.21,512 73.93,439.1 79.64,437.7 85.36,490 91.07,536 96.79,537.2 102.5,517 108.21,497 113.93,498.6 119.64,509.3 125.36,518.4 131.07,521.6 136.79,515.5 142.5,510 148.21,506.1 153.93,507 159.64,511.4 165.36,512.7 171.07,512.7 176.79,511.8 182.5,510.1 188.21,509.6 193.93,508.7 199.64,510.1 205.36,510.5 211.07,511.4 216.79,510.5 222.5,510.1 228.21,509.6 233.93,508.3 239.64,511 245.36,510.1 251.07,509.2 256.79,509.2 262.5,511 268.21,510.5 273.93,510.1 279.64,507.9 285.36,510.1 291.07,510.1 296.79,509.5 302.5,509 308.21,509.2 313.93,509.9 319.64,511 325.36,508.5 331.07,508.8 336.79,509.6 342.5,509.9 342.5,520.9 336.79,520.6 331.07,519.8 325.36,519.5 319.64,522 313.93,520.9 308.21,520.2 302.5,520 296.79,520.5 291.07,521.1 285.36,521.1 279.64,518.9 273.93,521.1 268.21,521.5 262.5,522 256.79,520.2 251.07,520.2 245.36,521.1 239.64,522 233.93,519.3 228.21,520.6 222.5,521.1 216.79,521.5 211.07,522.4 205.36,521.5 199.64,521.1 193.93,519.7 188.21,520.6 182.5,521.1 176.79,522.8 171.07,523.7 165.36,523.7 159.64,522.4 153.93,518 148.21,517.1 142.5,521 136.79,526.5 131.07,532.6 125.36,529 119.64,520.3 113.93,510.6 108.21,509.4 102.5,534 96.79,559.2 91.07,558 85.36,516 79.64,468.7 73.93,469.1 68.21,540 62.5,608" stroke="#5549d2" stroke-width="1.05"/>
<polyline points="62.5,597 68.21,526 73.93,454.1 79.64,453.2 85.36,503 91.07,547 96.79,548.2 102.5,525.5 108.21,503.2 113.93,504.6 119.64,514.8 125.36,523.7 131.07,527.1 136.79,521 142.5,515.5 148.21,511.6 153.93,512.5 159.64,516.9 165.36,518.2 171.07,518.2 176.79,517.3 182.5,515.6 188.21,515.1 193.93,514.2 199.64,515.6 205.36,516 211.07,516.9 216.79,516 222.5,515.6 228.21,515.1 233.93,513.8 239.64,516.5 245.36,515.6 251.07,514.7 256.79,514.7 262.5,516.5 268.21,516 273.93,515.6 279.64,513.4 285.36,515.6 291.07,515.6 296.79,515 302.5,514.5 308.21,514.7 313.93,515.4 319.64,516.5 325.36,514 331.07,514.3 336.79,515.1 342.5,515.4" stroke="#d8c8ff" stroke-width="4.4"/>
<polyline points="62.5,597 68.21,526 73.93,454.1 79.64,453.2 85.36,503 91.07,547 96.79,548.2 102.5,525.5 108.21,503.2 113.93,504.6 119.64,514.8 125.36,523.7 131.07,527.1 136.79,521 142.5,515.5 148.21,511.6 153.93,512.5 159.64,516.9 165.36,518.2 171.07,518.2 176.79,517.3 182.5,515.6 188.21,515.1 193.93,514.2 199.64,515.6 205.36,516 211.07,516.9 216.79,516 222.5,515.6 228.21,515.1 233.93,513.8 239.64,516.5 245.36,515.6 251.07,514.7 256.79,514.7 262.5,516.5 268.21,516 273.93,515.6 279.64,513.4 285.36,515.6 291.07,515.6 296.79,515 302.5,514.5 308.21,514.7 313.93,515.4 319.64,516.5 325.36,514 331.07,514.3 336.79,515.1 342.5,515.4" stroke="#1830d8" stroke-width="2.3"/>
</g>
<g clip-path="url(#cf)" stroke-linejoin="round" stroke-linecap="round" fill="none">
<polygon points="343.7,584 350.19,497 355.89,424.7 361.58,453 367.28,502 372.97,551 378.66,543 384.36,510.6 390.05,487.4 395.74,489.9 401.44,507.2 407.13,523.5 412.83,524 418.52,515.8 424.21,509.2 429.91,502.7 435.6,504.8 441.3,509.2 446.99,511.4 452.68,512.3 458.38,513.6 464.07,509.7 469.77,510.8 475.46,508.4 481.15,510.1 486.85,512.7 492.54,513.2 498.23,512.3 503.93,509.2 509.62,509.2 515.32,509.2 521.01,508.4 526.7,510.1 532.4,508.8 538.09,510.1 543.79,511 549.48,508.4 555.17,510.5 560.87,511 566.56,511.4 572.26,511.9 577.95,509.5 583.64,511.2 589.34,508.3 595.03,512.7 600.72,512.7 606.42,512.4 612.11,511.2 617.81,511.6 623.5,511.2 623.5,520.4 617.81,520.8 612.11,520.4 606.42,521.6 600.72,521.9 595.03,521.9 589.34,517.5 583.64,520.4 577.95,518.7 572.26,521.1 566.56,520.6 560.87,520.2 555.17,519.7 549.48,517.6 543.79,520.2 538.09,519.3 532.4,518 526.7,519.3 521.01,517.6 515.32,518.4 509.62,518.4 503.93,518.4 498.23,521.5 492.54,522.4 486.85,521.9 481.15,519.3 475.46,517.6 469.77,520 464.07,518.9 458.38,522.8 452.68,521.5 446.99,520.6 441.3,518.4 435.6,514 429.91,511.9 424.21,518.4 418.52,525 412.83,534 407.13,533.5 401.44,516.8 395.74,499.1 390.05,496.6 384.36,519.4 378.66,551 372.97,559 367.28,509 361.58,459 355.89,430.7 350.19,515 343.7,616" fill="#e8a3b3" stroke="none"/>
<polygon points="343.7,584 350.19,497 355.89,424.7 361.58,453 367.28,502 372.97,551 378.66,543 384.36,510.6 390.05,487.4 395.74,489.9 401.44,507.2 407.13,523.5 412.83,524 418.52,515.8 424.21,509.2 429.91,502.7 435.6,504.8 441.3,509.2 446.99,511.4 452.68,512.3 458.38,513.6 464.07,509.7 469.77,510.8 475.46,508.4 481.15,510.1 486.85,512.7 492.54,513.2 498.23,512.3 503.93,509.2 509.62,509.2 515.32,509.2 521.01,508.4 526.7,510.1 532.4,508.8 538.09,510.1 543.79,511 549.48,508.4 555.17,510.5 560.87,511 566.56,511.4 572.26,511.9 577.95,509.5 583.64,511.2 589.34,508.3 595.03,512.7 600.72,512.7 606.42,512.4 612.11,511.2 617.81,511.6 623.5,511.2 623.5,520.4 617.81,520.8 612.11,520.4 606.42,521.6 600.72,521.9 595.03,521.9 589.34,517.5 583.64,520.4 577.95,518.7 572.26,521.1 566.56,520.6 560.87,520.2 555.17,519.7 549.48,517.6 543.79,520.2 538.09,519.3 532.4,518 526.7,519.3 521.01,517.6 515.32,518.4 509.62,518.4 503.93,518.4 498.23,521.5 492.54,522.4 486.85,521.9 481.15,519.3 475.46,517.6 469.77,520 464.07,518.9 458.38,522.8 452.68,521.5 446.99,520.6 441.3,518.4 435.6,514 429.91,511.9 424.21,518.4 418.52,525 412.83,534 407.13,533.5 401.44,516.8 395.74,499.1 390.05,496.6 384.36,519.4 378.66,551 372.97,559 367.28,509 361.58,459 355.89,430.7 350.19,515 343.7,616" stroke="#d8ccf4" stroke-width="2.4"/>
<polygon points="343.7,584 350.19,497 355.89,424.7 361.58,453 367.28,502 372.97,551 378.66,543 384.36,510.6 390.05,487.4 395.74,489.9 401.44,507.2 407.13,523.5 412.83,524 418.52,515.8 424.21,509.2 429.91,502.7 435.6,504.8 441.3,509.2 446.99,511.4 452.68,512.3 458.38,513.6 464.07,509.7 469.77,510.8 475.46,508.4 481.15,510.1 486.85,512.7 492.54,513.2 498.23,512.3 503.93,509.2 509.62,509.2 515.32,509.2 521.01,508.4 526.7,510.1 532.4,508.8 538.09,510.1 543.79,511 549.48,508.4 555.17,510.5 560.87,511 566.56,511.4 572.26,511.9 577.95,509.5 583.64,511.2 589.34,508.3 595.03,512.7 600.72,512.7 606.42,512.4 612.11,511.2 617.81,511.6 623.5,511.2 623.5,520.4 617.81,520.8 612.11,520.4 606.42,521.6 600.72,521.9 595.03,521.9 589.34,517.5 583.64,520.4 577.95,518.7 572.26,521.1 566.56,520.6 560.87,520.2 555.17,519.7 549.48,517.6 543.79,520.2 538.09,519.3 532.4,518 526.7,519.3 521.01,517.6 515.32,518.4 509.62,518.4 503.93,518.4 498.23,521.5 492.54,522.4 486.85,521.9 481.15,519.3 475.46,517.6 469.77,520 464.07,518.9 458.38,522.8 452.68,521.5 446.99,520.6 441.3,518.4 435.6,514 429.91,511.9 424.21,518.4 418.52,525 412.83,534 407.13,533.5 401.44,516.8 395.74,499.1 390.05,496.6 384.36,519.4 378.66,551 372.97,559 367.28,509 361.58,459 355.89,430.7 350.19,515 343.7,616" stroke="#5549d2" stroke-width="1.05"/>
<polyline points="343.7,600 350.19,506 355.89,427.7 361.58,456 367.28,505.5 372.97,555 378.66,547 384.36,515 390.05,492 395.74,494.5 401.44,512 407.13,528.5 412.83,529 418.52,520.4 424.21,513.8 429.91,507.3 435.6,509.4 441.3,513.8 446.99,516 452.68,516.9 458.38,518.2 464.07,514.3 469.77,515.4 475.46,513 481.15,514.7 486.85,517.3 492.54,517.8 498.23,516.9 503.93,513.8 509.62,513.8 515.32,513.8 521.01,513 526.7,514.7 532.4,513.4 538.09,514.7 543.79,515.6 549.48,513 555.17,515.1 560.87,515.6 566.56,516 572.26,516.5 577.95,514.1 583.64,515.8 589.34,512.9 595.03,517.3 600.72,517.3 606.42,517 612.11,515.8 617.81,516.2 623.5,515.8" stroke="#d8c8ff" stroke-width="4.4"/>
<polyline points="343.7,600 350.19,506 355.89,427.7 361.58,456 367.28,505.5 372.97,555 378.66,547 384.36,515 390.05,492 395.74,494.5 401.44,512 407.13,528.5 412.83,529 418.52,520.4 424.21,513.8 429.91,507.3 435.6,509.4 441.3,513.8 446.99,516 452.68,516.9 458.38,518.2 464.07,514.3 469.77,515.4 475.46,513 481.15,514.7 486.85,517.3 492.54,517.8 498.23,516.9 503.93,513.8 509.62,513.8 515.32,513.8 521.01,513 526.7,514.7 532.4,513.4 538.09,514.7 543.79,515.6 549.48,513 555.17,515.1 560.87,515.6 566.56,516 572.26,516.5 577.95,514.1 583.64,515.8 589.34,512.9 595.03,517.3 600.72,517.3 606.42,517 612.11,515.8 617.81,516.2 623.5,515.8" stroke="#1830d8" stroke-width="2.3"/>
</g>
<path d="M85.5 207.5v-2.5M85.5 5.5v2.5M142.5 207.5v-2.5M142.5 5.5v2.5M199.5 207.5v-2.5M199.5 5.5v2.5M256.5 207.5v-2.5M256.5 5.5v2.5M313.5 207.5v-2.5M313.5 5.5v2.5M62.5 5.5h2.5M342.5 5.5h-2.5M62.5 51.5h2.5M342.5 51.5h-2.5M62.5 97.5h2.5M342.5 97.5h-2.5M62.5 143.5h2.5M342.5 143.5h-2.5M62.5 189.5h2.5M342.5 189.5h-2.5" stroke="#787878" stroke-width="1" fill="none"/>
<text x="56.6" y="11.1" text-anchor="end" class="tl">0.35</text>
<text x="56.6" y="57.01" text-anchor="end" class="tl">0.3</text>
<text x="56.6" y="102.92" text-anchor="end" class="tl">0.25</text>
<text x="56.6" y="148.83" text-anchor="end" class="tl">0.2</text>
<text x="56.6" y="194.74" text-anchor="end" class="tl">0.15</text>
<text x="330.7" y="31.9" text-anchor="end" class="pl">a</text>
<path d="M367.5 207.5v-2.5M367.5 5.5v2.5M424.5 207.5v-2.5M424.5 5.5v2.5M481.5 207.5v-2.5M481.5 5.5v2.5M538.5 207.5v-2.5M538.5 5.5v2.5M595.5 207.5v-2.5M595.5 5.5v2.5M344.5 14.5h2.5M623.5 14.5h-2.5M344.5 59.5h2.5M623.5 59.5h-2.5M344.5 104.5h2.5M623.5 104.5h-2.5M344.5 149.5h2.5M623.5 149.5h-2.5M344.5 194.5h2.5M623.5 194.5h-2.5" stroke="#787878" stroke-width="1" fill="none"/>
<text x="629.4" y="20.08" class="tl">4</text>
<text x="629.4" y="64.97" class="tl">3</text>
<text x="629.4" y="109.86" class="tl">2</text>
<text x="629.4" y="154.74" class="tl">1</text>
<text x="629.4" y="199.63" class="tl">0</text>
<text x="612.6" y="32.3" text-anchor="end" class="pl">b</text>
<path d="M85.5 412.5v-2.5M85.5 210.5v2.5M142.5 412.5v-2.5M142.5 210.5v2.5M199.5 412.5v-2.5M199.5 210.5v2.5M256.5 412.5v-2.5M256.5 210.5v2.5M313.5 412.5v-2.5M313.5 210.5v2.5M62.5 221.5h2.5M342.5 221.5h-2.5M62.5 277.5h2.5M342.5 277.5h-2.5M62.5 333.5h2.5M342.5 333.5h-2.5M62.5 390.5h2.5M342.5 390.5h-2.5" stroke="#787878" stroke-width="1" fill="none"/>
<text x="56.6" y="227.32" text-anchor="end" class="tl">2.5</text>
<text x="56.6" y="283.43" text-anchor="end" class="tl">2</text>
<text x="56.6" y="339.54" text-anchor="end" class="tl">1.5</text>
<text x="56.6" y="395.66" text-anchor="end" class="tl">1</text>
<text x="330.7" y="237.9" text-anchor="end" class="pl">c</text>
<path d="M367.5 412.5v-2.5M367.5 210.5v2.5M424.5 412.5v-2.5M424.5 210.5v2.5M481.5 412.5v-2.5M481.5 210.5v2.5M538.5 412.5v-2.5M538.5 210.5v2.5M595.5 412.5v-2.5M595.5 210.5v2.5M344.5 222.5h2.5M623.5 222.5h-2.5M344.5 281.5h2.5M623.5 281.5h-2.5M344.5 341.5h2.5M623.5 341.5h-2.5M344.5 400.5h2.5M623.5 400.5h-2.5" stroke="#787878" stroke-width="1" fill="none"/>
<text x="629.4" y="227.98" class="tl">300</text>
<text x="629.4" y="287.39" class="tl">250</text>
<text x="629.4" y="346.81" class="tl">200</text>
<text x="629.4" y="406.22" class="tl">150</text>
<text x="612.6" y="237.7" text-anchor="end" class="pl">d</text>
<path d="M85.5 615.5v-2.5M85.5 413.5v2.5M142.5 615.5v-2.5M142.5 413.5v2.5M199.5 615.5v-2.5M199.5 413.5v2.5M256.5 615.5v-2.5M256.5 413.5v2.5M313.5 615.5v-2.5M313.5 413.5v2.5M62.5 422.5h2.5M342.5 422.5h-2.5M62.5 468.5h2.5M342.5 468.5h-2.5M62.5 514.5h2.5M342.5 514.5h-2.5M62.5 560.5h2.5M342.5 560.5h-2.5M62.5 606.5h2.5M342.5 606.5h-2.5" stroke="#787878" stroke-width="1" fill="none"/>
<text x="56.6" y="428.28" text-anchor="end" class="tl">1</text>
<text x="56.6" y="474.19" text-anchor="end" class="tl">0.5</text>
<text x="56.6" y="520.1" text-anchor="end" class="tl">0</text>
<text x="56.6" y="566.01" text-anchor="end" class="tl">−0.5</text>
<text x="56.6" y="611.92" text-anchor="end" class="tl">−1</text>
<text x="330.7" y="440.9" text-anchor="end" class="pl">e</text>
<path d="M367.5 615.5v-2.5M367.5 413.5v2.5M424.5 615.5v-2.5M424.5 413.5v2.5M481.5 615.5v-2.5M481.5 413.5v2.5M538.5 615.5v-2.5M538.5 413.5v2.5M595.5 615.5v-2.5M595.5 413.5v2.5M344.5 433.5h2.5M623.5 433.5h-2.5M344.5 474.5h2.5M623.5 474.5h-2.5M344.5 514.5h2.5M623.5 514.5h-2.5M344.5 554.5h2.5M623.5 554.5h-2.5M344.5 595.5h2.5M623.5 595.5h-2.5" stroke="#787878" stroke-width="1" fill="none"/>
<text x="629.4" y="439.3" class="tl">20</text>
<text x="629.4" y="479.7" class="tl">10</text>
<text x="629.4" y="520.1" class="tl">0</text>
<text x="629.4" y="560.5" class="tl">−10</text>
<text x="629.4" y="600.9" class="tl">−20</text>
<text x="612.6" y="440.7" text-anchor="end" class="pl">f</text>
<text x="85.36" y="634.4" text-anchor="middle" class="tl">0.1</text>
<text x="142.5" y="634.4" text-anchor="middle" class="tl">0.2</text>
<text x="199.64" y="634.4" text-anchor="middle" class="tl">0.3</text>
<text x="256.79" y="634.4" text-anchor="middle" class="tl">0.4</text>
<text x="313.93" y="634.4" text-anchor="middle" class="tl">0.5</text>
<text x="367.28" y="634.4" text-anchor="middle" class="tl">0.1</text>
<text x="424.21" y="634.4" text-anchor="middle" class="tl">0.2</text>
<text x="481.15" y="634.4" text-anchor="middle" class="tl">0.3</text>
<text x="538.09" y="634.4" text-anchor="middle" class="tl">0.4</text>
<text x="595.03" y="634.4" text-anchor="middle" class="tl">0.5</text>
<text class="lab" transform="translate(16.1,106.7) rotate(-90)" text-anchor="middle">(m)</text>
<text class="lab" transform="translate(16.3,310.6) rotate(-90)" text-anchor="middle"><tspan font-style="italic">L</tspan> (m)</text>
<text class="lab" transform="translate(12.3,514.5) rotate(-90)" text-anchor="middle"><tspan font-style="italic">Z</tspan><tspan font-size="11" dy="2.5">o</tspan><tspan dy="-2.5"> (m)</tspan></text>
<text class="lab" x="203.2" y="656.3" text-anchor="middle"><tspan font-style="italic">t</tspan> (ms)</text>
<text class="lab" x="484.7" y="656.3" text-anchor="middle"><tspan font-style="italic">t</tspan> (ms)</text>
<text class="lab" transform="translate(660,107) rotate(-90)" text-anchor="middle"><tspan font-style="italic">ψ</tspan><tspan font-size="11" dy="2.5">0</tspan><tspan dy="-2.5">(mWb)</tspan></text>
<g transform="translate(678.4,333) rotate(-90)"><text class="lab" x="0" y="0" style="font-style:italic;font-weight:bold">I</text><text class="lab" x="6.6" y="3" style="font-size:11px">p</text><text class="lab" x="12.1" y="0">(kA)</text></g>
<g transform="translate(678.6,536.3) rotate(-90)"><text class="lab" x="0" y="0" style="font-style:italic;font-weight:bold">I</text><text class="lab" x="6" y="3.4" style="font-size:11px">v</text><text class="lab" x="6.5" y="-8.4" style="font-size:10px">ζ</text><text class="lab" x="11.8" y="0">(kA)</text></g>
<path d="M138 26.8H161.7" stroke="#1ede28" stroke-width="2.2"/>
<path d="M138 46.4H161.7" stroke="#1830d8" stroke-width="2.2"/>
<text class="lg" x="171.3" y="34.3">√</text>
<text class="lg" x="180.2" y="34.3">2</text>
<text class="lg" x="190.2" y="34.3" font-style="italic">R</text>
<text class="lg" x="201.9" y="39.4" style="font-size:12px">0</text>
<path d="M179 19.6H190.5" stroke="#000" stroke-width="0.9"/>
<text class="lg" x="169.8" y="52.5" font-style="italic">R</text>
<text class="lg" x="181.5" y="56.2" style="font-size:12px">s</text>
<path d="M410.3 30.7H433.9" stroke="#1ede28" stroke-width="2.2"/>
<path d="M410.3 49.4H433.9" stroke="#1830d8" stroke-width="2.2"/>
<text class="lg" x="442.3" y="35.5" font-style="italic">B</text>
<text class="lg" x="453" y="39" style="font-size:12px">w</text>
<text class="lg" x="462.6" y="35.5" font-style="italic">R</text>
<text class="lg" x="475.3" y="30.6" style="font-size:12px">3</text>
<text class="lg" x="476.4" y="39.3" style="font-size:11px;font-style:italic">s</text>
<text class="lg" x="483.3" y="35.5">/</text>
<text class="lg" x="487.6" y="35.5" font-style="italic">R</text>
<text class="lg" x="501.8" y="39" style="font-size:12px">w</text>
<text class="lg" x="439.8" y="54.3" font-style="italic" style="font-size:15px">ψ</text>
<text class="lg" x="450.2" y="58.7" style="font-size:12px">0</text>
<text class="lg" x="458.7" y="54.3" font-style="italic">(mWb</text>
<text class="lg" x="501.3" y="54.3">)</text>
</svg>
</body></html>
